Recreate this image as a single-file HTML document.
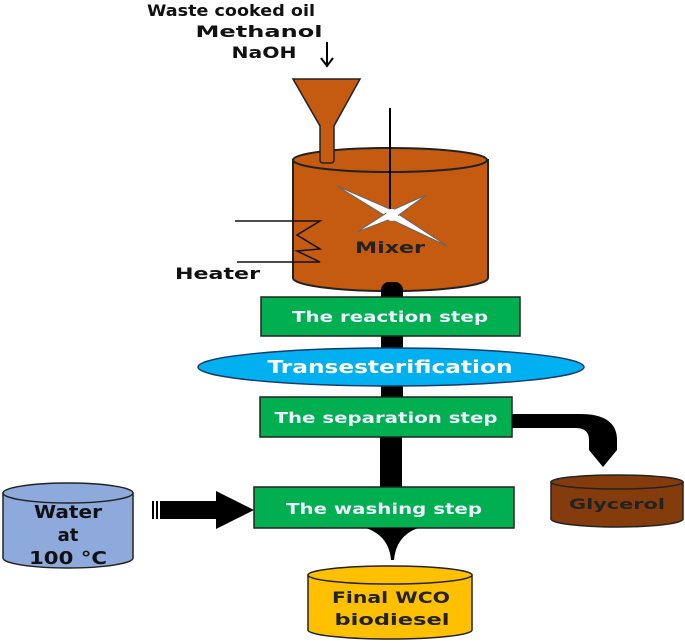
<!DOCTYPE html>
<html><head><style>
body{margin:0;background:#fff;}
svg{display:block;}
text{font-family:"DejaVu Sans","Liberation Sans",sans-serif;font-weight:bold;}
</style></head><body>
<svg width="685" height="643" viewBox="0 0 685 643" xmlns="http://www.w3.org/2000/svg">
<!-- top labels -->
<text x="231" y="16" font-size="16" text-anchor="middle" fill="#111" textLength="168" lengthAdjust="spacingAndGlyphs">Waste cooked oil</text>
<text x="259" y="37" font-size="16" text-anchor="middle" fill="#111" textLength="127" lengthAdjust="spacingAndGlyphs">Methanol</text>
<text x="264" y="58" font-size="16" text-anchor="middle" fill="#111" textLength="65" lengthAdjust="spacingAndGlyphs">NaOH</text>
<line x1="327" y1="42" x2="327" y2="64" stroke="#000" stroke-width="2"/>
<path d="M321,58 L327,66 L333,58" fill="none" stroke="#000" stroke-width="2"/>
<!-- tank -->
<path d="M293,160 L293,278 A97,13 0 0 0 488,278 L488,160 Z" fill="#C55A11" stroke="#222" stroke-width="2"/>
<ellipse cx="390" cy="160" rx="97" ry="12" fill="#C55A11" stroke="#222" stroke-width="2"/>
<!-- funnel -->
<path d="M293,79 L360,79 L334,126 L334,160 Q334,163 330,163 L323,163 Q320,163 320,160 L320,126 Z" fill="#C55A11" stroke="#222" stroke-width="1.5"/>
<!-- shaft -->
<line x1="390" y1="108" x2="390" y2="215" stroke="#000" stroke-width="2"/>
<!-- X mixer -->
<path d="M337,186 L392,210 L447,246 L392,220 Z" fill="#fff" stroke="#666" stroke-width="1"/>
<path d="M426,195 L396,217 L357,232 L388,212 Z" fill="#fff" stroke="#666" stroke-width="1"/>
<circle cx="392" cy="215" r="6" fill="#fff"/>
<text x="390" y="253" font-size="16" text-anchor="middle" fill="#222" textLength="70" lengthAdjust="spacingAndGlyphs">Mixer</text>
<!-- heater -->
<polyline points="235,221 320,221 297,235 320,249 297,251 320,262 237,262" fill="none" stroke="#111" stroke-width="1.5"/>
<text x="175" y="279" font-size="16" fill="#111" textLength="85" lengthAdjust="spacingAndGlyphs">Heater</text>
<!-- connectors -->
<rect x="381" y="282" width="22" height="130" rx="8" fill="#000"/>
<rect x="380" y="430" width="22" height="60" fill="#000"/>
<!-- reaction box -->
<rect x="261" y="297" width="259" height="39" fill="#00B050" stroke="#222" stroke-width="1.5"/>
<text x="390" y="322" font-size="15" text-anchor="middle" fill="#eef" textLength="196" lengthAdjust="spacingAndGlyphs">The reaction step</text>
<!-- ellipse -->
<ellipse cx="391" cy="367" rx="193" ry="19" fill="#00B0F0" stroke="#1a3a6a" stroke-width="1.5"/>
<text x="390" y="373" font-size="18" text-anchor="middle" fill="#fff" textLength="245" lengthAdjust="spacingAndGlyphs">Transesterification</text>
<!-- separation -->
<rect x="260" y="397" width="252" height="40" fill="#00B050" stroke="#222" stroke-width="1.5"/>
<text x="386" y="423" font-size="15" text-anchor="middle" fill="#eef" textLength="223" lengthAdjust="spacingAndGlyphs">The separation step</text>
<!-- glycerol arrow -->
<path d="M512,414 L580,414 Q617,414 617,440 L617,450 L603,467 L589,450 L589,440 Q589,428 576,428 L512,428 Z" fill="#000"/>
<!-- glycerol cylinder -->
<path d="M551,482 L551,519 A66,8 0 0 0 683,519 L683,482 Z" fill="#843C0C" stroke="#222" stroke-width="1.5"/>
<ellipse cx="617" cy="482" rx="66" ry="7" fill="#843C0C" stroke="#222" stroke-width="1.5"/>
<text x="617" y="509" font-size="14" text-anchor="middle" fill="#222" textLength="96" lengthAdjust="spacingAndGlyphs">Glycerol</text>
<!-- washing -->
<rect x="254" y="487" width="260" height="41" fill="#00B050" stroke="#222" stroke-width="1.5"/>
<text x="384" y="514" font-size="15" text-anchor="middle" fill="#eef" textLength="196" lengthAdjust="spacingAndGlyphs">The washing step</text>
<!-- water -->
<path d="M3,493 L3,558 A65,10 0 0 0 133,558 L133,493 Z" fill="#8EA9DB" stroke="#222" stroke-width="1.5"/>
<ellipse cx="68" cy="493" rx="65" ry="10" fill="#8EA9DB" stroke="#222" stroke-width="1.5"/>
<text x="68" y="518" font-size="18" text-anchor="middle" fill="#111" textLength="68" lengthAdjust="spacingAndGlyphs">Water</text>
<text x="68" y="541" font-size="18" text-anchor="middle" fill="#111">at</text>
<text x="68" y="564" font-size="18" text-anchor="middle" fill="#111" textLength="78" lengthAdjust="spacingAndGlyphs">100 °C</text>
<!-- water arrow -->
<rect x="152" y="501" width="2" height="18" fill="#000"/>
<rect x="156" y="501" width="2" height="18" fill="#000"/>
<rect x="160" y="501" width="57" height="18" fill="#000"/>
<path d="M216,491 L254,510 L216,529 Z" fill="#000"/>
<!-- funnel arrow to final -->
<path d="M366,528 L418,528 Q396,536 394,560 L391,560 Q389,536 366,528 Z" fill="#000"/>
<!-- final -->
<path d="M308,575 L308,630 A82,9 0 0 0 472,630 L472,575 Z" fill="#FFC000" stroke="#222" stroke-width="1.5"/>
<ellipse cx="390" cy="575" rx="82" ry="9" fill="#FFC000" stroke="#222" stroke-width="1.5"/>
<text x="391" y="603" font-size="16" text-anchor="middle" fill="#222" textLength="118" lengthAdjust="spacingAndGlyphs">Final WCO</text>
<text x="392" y="625" font-size="16" text-anchor="middle" fill="#222" textLength="115" lengthAdjust="spacingAndGlyphs">biodiesel</text>
</svg>
</body></html>
